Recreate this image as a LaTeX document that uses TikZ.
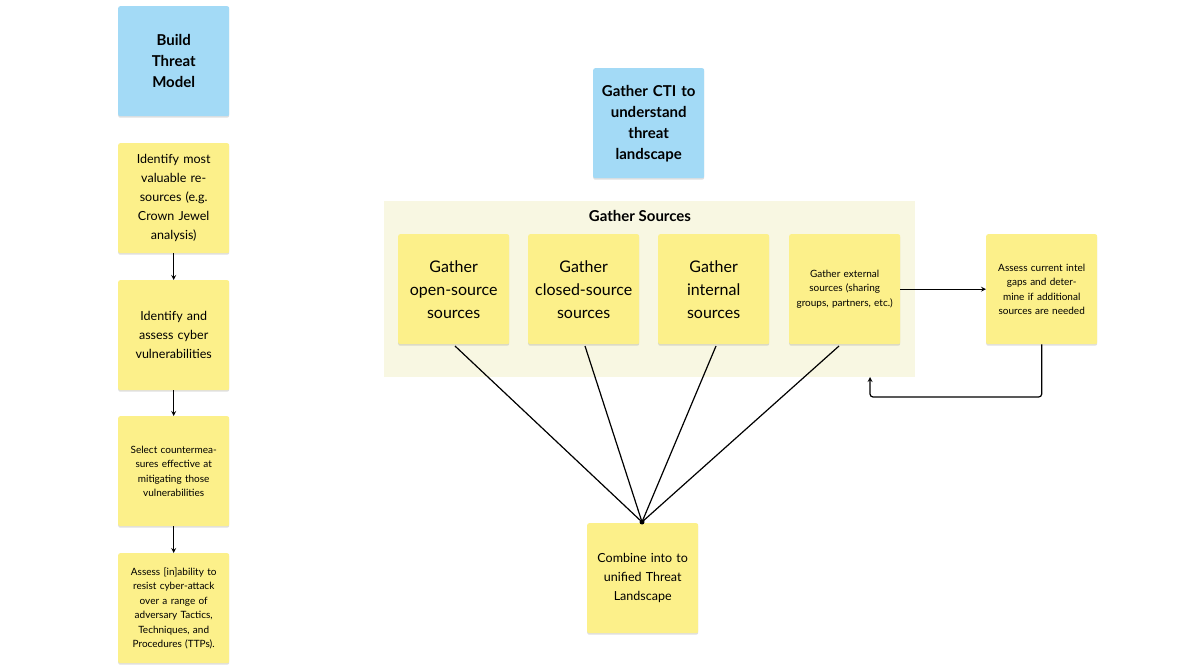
\documentclass[tikz,border=0pt]{standalone}
\usepackage{fontspec}
\setmainfont{Lato}
\usetikzlibrary{positioning,shadows}
\definecolor{stickyblue}{HTML}{A3DAF6}
\definecolor{stickyyellow}{HTML}{FCF08A}
\definecolor{panelcream}{HTML}{F8F7E2}
\begin{document}
\begin{tikzpicture}[x=1pt,y=-1pt,
    sticky/.style={rounded corners=2pt, minimum width=111pt, minimum height=110pt,
        text width=100pt, align=center, inner sep=3pt,
        drop shadow={shadow xshift=0pt, shadow yshift=-1.5pt, opacity=.25}},
    head/.style={sticky, fill=stickyblue, font=\bfseries\fontsize{15}{21}\selectfont},
    note/.style={sticky, fill=stickyyellow},
    big/.style={font=\fontsize{16}{23}\selectfont},
    mid/.style={font=\fontsize{12.5}{19}\selectfont},
    small/.style={font=\fontsize{10}{14.5}\selectfont},
    link/.style={line width=1.2pt},
    flow/.style={link, -stealth}]

    \useasboundingbox (0,0) rectangle (1200,671);

    % left column
    \node[head, anchor=north west] (model) at (118,6) {Build\\Threat\\Model};
    \node[note, mid, anchor=north west] (valuable) at (118,143) {Identify most valuable resources (e.g. Crown Jewel analysis)};
    \node[note, mid, anchor=north west] (vulns) at (118,280) {Identify and assess cyber vulnerabilities};
    \node[note, small, anchor=north west] (counter) at (118,416) {Select countermeasures effective at mitigating those vulnerabilities};
    \node[note, small, anchor=north west] (resist) at (118,553) {Assess [in]ability to resist cyber-attack over a range of adversary Tactics, Techniques, and Procedures (TTPs).};

    \draw[flow] (valuable) -- (vulns);
    \draw[flow] (vulns) -- (counter);
    \draw[flow] (counter) -- (resist);

    % right part
    \node[head, anchor=north west] (cti) at (593,68) {Gather CTI to understand threat landscape};
    \fill[panelcream] (384,201) rectangle (915,377);
    \node[font=\bfseries\fontsize{15}{18}\selectfont] (sources) at (640,216) {Gather Sources};

    \node[note, big, anchor=north west] (open) at (398,234) {Gather open-source sources};
    \node[note, big, anchor=north west] (closed) at (528,234) {Gather closed-source sources};
    \node[note, big, anchor=north west] (internal) at (658,234) {Gather internal sources};
    \node[note, small, anchor=north west] (external) at (789,234) {Gather external sources (sharing groups, partners, etc.)};
    \node[note, small, anchor=north west] (gaps) at (986,234) {Assess current intel gaps and determine if additional sources are needed};
    \node[note, mid, anchor=north west] (combine) at (587,523) {Combine into to unified Threat Landscape};

    \coordinate (hub) at (642,522);
    \coordinate (back) at (870,377);
    \draw[link] (455,346) -- (hub);
    \draw[link] (585,346) -- (hub);
    \draw[link] (716,346) -- (hub);
    \draw[link] (839,346) -- (hub);
    \fill (hub) circle (2.5pt);

    \draw[flow] (external.east) -- (gaps.west);
    \draw[flow, rounded corners=3pt] (gaps.south) |- (870,397) -- (back);
\end{tikzpicture}
\end{document}
